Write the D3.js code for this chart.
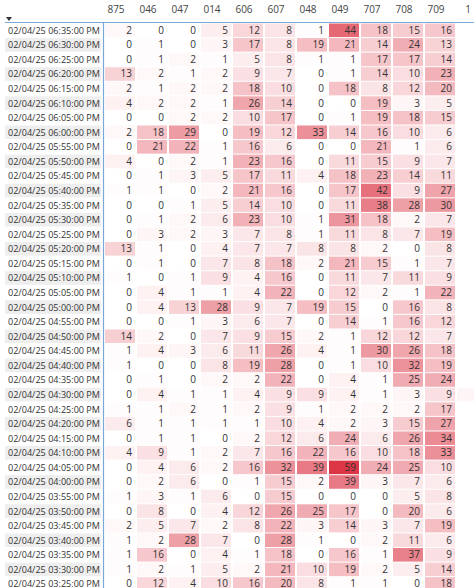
<!DOCTYPE html>
<html><head><meta charset="utf-8">
<script src="https://cdn.jsdelivr.net/npm/d3@7"></script>
<style>body{margin:0;background:#fff;overflow:hidden}text{font-family:"Segoe UI","Open Sans",sans-serif}</style>
</head><body><svg id="c" width="474" height="588"></svg>
<script>
const columns=["875","046","047","014","606","607","048","049","707","708","709","1"];
const times=["06:35","06:30","06:25","06:20","06:15","06:10","06:05","06:00","05:55","05:50","05:45","05:40","05:35","05:30","05:25","05:20","05:15","05:10","05:05","05:00","04:55","04:50","04:45","04:40","04:35","04:30","04:25","04:20","04:15","04:10","04:05","04:00","03:55","03:50","03:45","03:40","03:35","03:30","03:25"];
const values=[
[2,0,0,5,12,8,1,44,18,15,16],
[0,1,0,3,17,8,19,21,14,24,13],
[0,1,2,1,5,8,1,1,17,17,14],
[13,2,1,2,9,7,0,1,14,10,23],
[2,1,2,2,18,10,0,18,8,12,20],
[4,2,2,1,26,14,0,0,19,3,5],
[0,0,2,2,10,17,0,1,19,18,15],
[2,18,29,0,19,12,33,14,16,10,6],
[0,21,22,1,16,6,0,0,21,1,6],
[4,0,2,1,23,16,0,11,15,9,7],
[0,1,3,5,17,11,4,18,23,14,11],
[1,1,0,2,21,16,0,17,42,9,27],
[0,0,1,5,14,10,0,11,38,28,30],
[0,1,2,6,23,10,1,31,18,2,7],
[0,3,2,3,7,8,1,11,8,7,19],
[13,1,0,4,7,7,8,8,2,0,8],
[0,1,0,7,8,18,2,21,15,1,7],
[1,0,1,9,4,16,0,11,7,11,9],
[0,4,1,1,4,22,0,12,2,1,22],
[0,4,13,28,9,7,19,15,0,16,8],
[0,0,1,3,6,7,0,14,1,16,12],
[14,2,0,7,9,15,2,1,12,12,7],
[1,4,3,6,11,26,4,1,30,26,18],
[1,0,0,8,19,28,0,1,10,32,19],
[0,1,0,2,2,22,0,4,1,25,24],
[0,4,1,1,4,9,9,4,1,3,9,3],
[1,1,2,1,2,9,1,2,2,2,17],
[6,1,1,1,1,10,4,2,3,15,27],
[0,1,1,0,2,12,6,24,6,26,34],
[4,9,1,2,7,16,22,16,10,18,33],
[0,4,6,2,16,32,39,59,24,25,10],
[0,2,6,0,1,15,2,39,3,7,6],
[1,3,1,6,0,15,0,0,0,5,8],
[0,8,0,4,12,26,25,17,0,20,6],
[2,5,7,2,8,22,3,14,3,7,19],
[1,2,28,7,0,28,1,0,2,11,6],
[1,16,0,4,1,18,0,16,1,37,9],
[1,2,1,5,2,21,10,19,2,5,14],
[0,12,4,10,16,20,8,1,1,0,18]
];
const svg=d3.select("#c");
const x=d3.scaleBand().domain(columns).range([104,104+32*12]).padding(0);
const y=d3.scaleBand().domain(times).range([23,23+14.57*times.length]);
const color=d3.scaleLinear().domain([0,59]).range(["#ffffff","#dc3646"]);
svg.selectAll("text.h").data(columns).join("text").attr("class","h")
 .attr("x",d=>x(d)+x.bandwidth()/2-4).attr("y",13).attr("text-anchor","middle")
 .attr("font-size",10).attr("fill","#444").text(d=>d);
svg.append("path").attr("d","M6,17 L12,17 L9,21 Z").attr("fill","#333");
svg.append("line").attr("x1",5).attr("x2",474).attr("y1",22.5).attr("y2",22.5).attr("stroke","#7aa9d9").attr("stroke-width",1);
const g=svg.append("g");
times.forEach((t,i)=>{
  if(i%2===1) g.append("rect").attr("x",5).attr("y",y(t)+0.5).attr("width",96).attr("height",y.bandwidth()-1).attr("fill","#eeeeee");
  g.append("text").attr("x",8).attr("y",y(t)+y.bandwidth()/2+3.5).attr("font-size",9.6).attr("textLength",92).attr("lengthAdjust","spacingAndGlyphs").attr("fill","#333").text("02/04/25 "+t+":00 PM");
  values[i].forEach((v,j)=>{
    const c=columns[j];
    g.append("rect").attr("x",x(c)+1).attr("y",y(t)+0.5).attr("width",x.bandwidth()-2).attr("height",y.bandwidth()-1).attr("fill",color(v));
    if(j<11) g.append("text").attr("x",x(c)+x.bandwidth()-4).attr("y",y(t)+y.bandwidth()/2+3.5).attr("text-anchor","end").attr("font-size",10).attr("fill","#333").text(v);
  });
});
svg.append("line").attr("x1",103.5).attr("x2",103.5).attr("y1",22).attr("y2",588).attr("stroke","#7aa9d9").attr("stroke-width",1.2);
</script></body></html>
